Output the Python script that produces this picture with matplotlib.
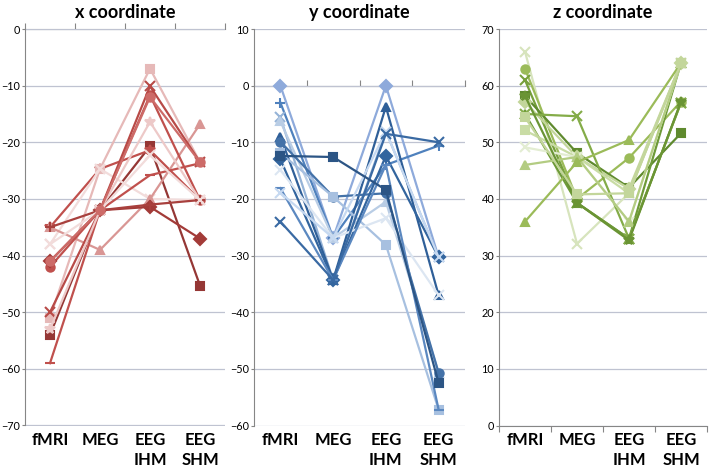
import matplotlib
matplotlib.use("Agg")
import matplotlib.pyplot as plt
import numpy as np

categories = ["fMRI", "MEG", "EEG\nIHM", "EEG\nSHM"]

# x coordinate series (fMRI, MEG, EEG IHM, EEG SHM)
x_series = [
    [-54, -32, -20.7, -45.3],
    [-35, -24.7, -21.4, -30.2],
    [-51, -24.7, -7, -23.5],
    [-38, -24.7, -30, -30.2],
    [-35, -39, -30, -16.8],
    [-42, -32, -11.7, -30.2],
    [-41, -32, -31.4, -37],
    [-50, -32, -10.1, -23.5],
    [-59, -32, -25.8, -23.7],
    [-53, -32, -16.4, -30.2],
    [-35, -32, -31, -30.2],
    [-38, -32, -22.3, -30.2],
    [-41, -32, -12, -23.5],
]
# y coordinate series
y_series = [
    [0, -26.9, 0, -30.3],
    [-3, -26.9, -14, -10.6],
    [-5.6, -34.3, -8.1, -30.3],
    [-6.3, -26.9, -20.5, -50.7],
    [-9, -34.3, -3.7, -37],
    [-9.9, -19.6, -19, -50.7],
    [-11.9, -19.6, -28.1, -57.2],
    [-13, -34.3, -12.4, -30.3],
    [-14.9, -26.9, -23.4, -37],
    [-18.1, -34.3, -14, -57.2],
    [-18.9, -26.9, -8.1, -30.3],
    [-24, -34.3, -8.5, -10],
    [-12.4, -12.6, -18.4, -52.5],
]
# z coordinate series
z_series = [
    [66, 32.1, 41, 64],
    [63, 40, 47.25, 57.2],
    [61, 39.3, 33, 57],
    [58.2, 48.1, 42, 51.6],
    [57.1, 47.4, 41.8, 64],
    [55, 39.3, 33, 64],
    [55, 54.6, 33, 57],
    [52.1, 47.4, 41, 64],
    [49.1, 47.4, 36, 64],
    [46, 47.4, 36, 64],
    [36, 46.5, 50.4, 64],
    [58.2, 39.3, 32.7, 57.2],
    [54.4, 40.8, 41, 64],
]

titles = ["x coordinate", "y coordinate", "z coordinate"]
ylims = [(-70, 0), (-60, 10), (0, 70)]

reds = ["#953735", "#C0504D", "#E6B9B8", "#F2DCDB", "#D99694", "#C0504D",
        "#A33B38", "#B84A47", "#C0504D", "#EDC9C8", "#A8403D", "#F2DCDB", "#CD6B68"]
blues = ["#8EAADB", "#4F81BD", "#95B3D7", "#B9CDE5", "#2F5F98", "#4472A8",
         "#A7C0E0", "#33659E", "#DCE6F2", "#5B88C0", "#C6D9F1", "#3A6AA3", "#2C5585"]
greens = ["#D7E4BD", "#9BBB59", "#77A03C", "#5F8A2E", "#C3D69B", "#6E9A38",
          "#84AC48", "#C9DCA5", "#E3EDD2", "#B3CC82", "#9BBB59", "#6A9434", "#C3D69B"]
markers = ["s", "*", "s", "x", "^", "o", "D", "x", "_", "*", "+", "x", "o"]
markers_y = ["D", "+", "x", "^", "^", "o", "s", "D", "x", "_", "x", "x", "s"]
markers_z = ["x", "o", "x", "s", "D", "^", "x", "s", "x", "^", "^", "*", "s"]

font = ["Lato", "DejaVu Sans"]
plt.rcParams["font.family"] = font

fig = plt.figure(figsize=(7.09, 4.67), dpi=100)
W, H = 709, 467
rects = [(25, 225), (254, 465), (499, 707)]
top_px, bot_px = 29, 425.5

panels = [(x_series, reds, markers), (y_series, blues, markers_y), (z_series, greens, markers_z)]
xs = np.arange(len(categories))

for i, ((series, cols, mks), (l, r)) in enumerate(zip(panels, rects)):
    ax = fig.add_axes([l / W, 1 - bot_px / H, (r - l) / W, (bot_px - top_px) / H])
    ymin, ymax = ylims[i]
    for j, s in enumerate(series):
        ax.plot(xs, s, color=cols[j], lw=1.6, marker=mks[j], ms=6 if mks[j] in ("s", "o", "D", "^") else 7,
                mew=1.5, markeredgecolor=cols[j], markerfacecolor=cols[j], zorder=3)
    ax.set_xlim(-0.5, len(categories) - 0.5)
    ax.set_ylim(ymin, ymax)
    ax.set_yticks(np.arange(ymin, ymax + 1, 10))
    ax.yaxis.grid(True, color="#BFC3D1", lw=0.9)
    ax.set_axisbelow(True)
    for sp in ["top", "right"]:
        ax.spines[sp].set_visible(False)
    ax.spines["left"].set_color("#868686")
    ax.tick_params(axis="y", length=2, color="#868686", labelsize=7.8, pad=1.5, labelcolor="#000000")
    ax.set_xticks(xs)
    ax.set_xticklabels(categories, fontsize=12, fontweight="bold", linespacing=1.3)
    ax.tick_params(axis="x", length=0, pad=5)
    ax.spines["bottom"].set_visible(False)
    # category axis crossing at 0
    frac = (0 - ymin) / (ymax - ymin)
    sec = ax.secondary_xaxis(frac)
    sec.set_xticks(np.arange(-0.5, len(categories), 1.0))
    sec.set_xticklabels([])
    sec.spines["bottom"].set_color("#868686")
    sec.spines["top"].set_color("#868686")
    sec.tick_params(axis="x", length=4, color="#868686", direction="out")
    ax.set_title(titles[i], fontsize=13, fontweight="bold", pad=8)

fig.savefig("out.png", dpi=100)
